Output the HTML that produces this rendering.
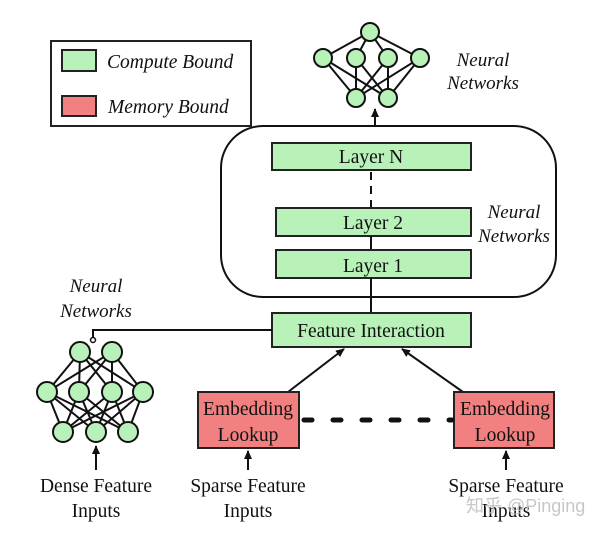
<!DOCTYPE html>
<html><head><meta charset="utf-8"><style>
html,body{margin:0;padding:0;background:#fff;}
svg{display:block;}
text{font-family:"Liberation Serif",serif;fill:#111;}
</style></head><body>
<svg width="600" height="534" viewBox="0 0 600 534" xmlns="http://www.w3.org/2000/svg">
<defs>
<marker id="ah" markerWidth="10" markerHeight="10" refX="8" refY="5" orient="auto" markerUnits="userSpaceOnUse">
<path d="M0,1 L9,5 L0,9 Z" fill="#111"/>
</marker>
</defs>
<rect width="600" height="534" fill="#fff"/>
<!-- Legend -->
<rect x="51" y="41" width="200" height="85" fill="#fff" stroke="#222" stroke-width="2"/>
<rect x="62" y="50" width="34" height="21" fill="#b8f2b8" stroke="#222" stroke-width="2"/>
<text x="107" y="68" font-size="19.5" font-style="italic">Compute Bound</text>
<rect x="62" y="96" width="34" height="20" fill="#f28080" stroke="#222" stroke-width="2"/>
<text x="108" y="113" font-size="19.5" font-style="italic">Memory Bound</text>

<!-- Top NN -->
<g stroke="#111" stroke-width="2">
<line x1="370" y1="32" x2="323" y2="58"/><line x1="370" y1="32" x2="356" y2="58"/><line x1="370" y1="32" x2="388" y2="58"/><line x1="370" y1="32" x2="420" y2="58"/>
<line x1="323" y1="58" x2="356" y2="98"/><line x1="323" y1="58" x2="388" y2="98"/>
<line x1="356" y1="58" x2="356" y2="98"/><line x1="356" y1="58" x2="388" y2="98"/>
<line x1="388" y1="58" x2="356" y2="98"/><line x1="388" y1="58" x2="388" y2="98"/>
<line x1="420" y1="58" x2="356" y2="98"/><line x1="420" y1="58" x2="388" y2="98"/>
</g>
<g fill="#b8f2b8" stroke="#111" stroke-width="2">
<circle cx="370" cy="32" r="9"/>
<circle cx="323" cy="58" r="9"/><circle cx="356" cy="58" r="9"/><circle cx="388" cy="58" r="9"/><circle cx="420" cy="58" r="9"/>
<circle cx="356" cy="98" r="9"/><circle cx="388" cy="98" r="9"/>
</g>
<line x1="375" y1="126" x2="375" y2="109" stroke="#111" stroke-width="2" marker-end="url(#ah)"/>
<text x="483" y="66" font-size="19" font-style="italic" text-anchor="middle">Neural</text>
<text x="483" y="89" font-size="19" font-style="italic" text-anchor="middle">Networks</text>

<!-- Rounded container -->
<rect x="221" y="126" width="335" height="171" rx="42" ry="42" fill="none" stroke="#111" stroke-width="2"/>
<rect x="272" y="143" width="199" height="27" fill="#b8f2b8" stroke="#222" stroke-width="2"/>
<text x="371" y="163" font-size="19.5" text-anchor="middle">Layer N</text>
<line x1="371" y1="172" x2="371" y2="207" stroke="#111" stroke-width="2" stroke-dasharray="8,6"/>
<rect x="276" y="208" width="195" height="28" fill="#b8f2b8" stroke="#222" stroke-width="2"/>
<text x="373" y="229" font-size="19.5" text-anchor="middle">Layer 2</text>
<line x1="371" y1="236" x2="371" y2="250" stroke="#111" stroke-width="2"/>
<rect x="276" y="250" width="195" height="28" fill="#b8f2b8" stroke="#222" stroke-width="2"/>
<text x="373" y="272" font-size="19.5" text-anchor="middle">Layer 1</text>
<text x="514" y="218" font-size="19" font-style="italic" text-anchor="middle">Neural</text>
<text x="514" y="242" font-size="19" font-style="italic" text-anchor="middle">Networks</text>

<line x1="371" y1="278" x2="371" y2="313" stroke="#111" stroke-width="2"/>
<!-- Feature Interaction -->
<rect x="272" y="313" width="199" height="34" fill="#b8f2b8" stroke="#222" stroke-width="2"/>
<text x="371" y="337" font-size="19.5" text-anchor="middle">Feature Interaction</text>

<!-- Left NN -->
<text x="96" y="292" font-size="19" font-style="italic" text-anchor="middle">Neural</text>
<text x="96" y="317" font-size="19" font-style="italic" text-anchor="middle">Networks</text>
<polyline points="272,330 93,330 93,338" fill="none" stroke="#111" stroke-width="2"/>
<circle cx="93" cy="340" r="2.5" fill="#fff" stroke="#111" stroke-width="1.5"/>
<g stroke="#111" stroke-width="2">
<line x1="80" y1="352" x2="47" y2="392"/><line x1="80" y1="352" x2="79" y2="392"/><line x1="80" y1="352" x2="112" y2="392"/><line x1="80" y1="352" x2="143" y2="392"/>
<line x1="112" y1="352" x2="47" y2="392"/><line x1="112" y1="352" x2="79" y2="392"/><line x1="112" y1="352" x2="112" y2="392"/><line x1="112" y1="352" x2="143" y2="392"/>
<line x1="47" y1="392" x2="63" y2="432"/><line x1="47" y1="392" x2="96" y2="432"/><line x1="47" y1="392" x2="128" y2="432"/>
<line x1="79" y1="392" x2="63" y2="432"/><line x1="79" y1="392" x2="96" y2="432"/><line x1="79" y1="392" x2="128" y2="432"/>
<line x1="112" y1="392" x2="63" y2="432"/><line x1="112" y1="392" x2="96" y2="432"/><line x1="112" y1="392" x2="128" y2="432"/>
<line x1="143" y1="392" x2="63" y2="432"/><line x1="143" y1="392" x2="96" y2="432"/><line x1="143" y1="392" x2="128" y2="432"/>
</g>
<g fill="#b8f2b8" stroke="#111" stroke-width="2">
<circle cx="80" cy="352" r="10"/><circle cx="112" cy="352" r="10"/>
<circle cx="47" cy="392" r="10"/><circle cx="79" cy="392" r="10"/><circle cx="112" cy="392" r="10"/><circle cx="143" cy="392" r="10"/>
<circle cx="63" cy="432" r="10"/><circle cx="96" cy="432" r="10"/><circle cx="128" cy="432" r="10"/>
</g>
<line x1="96" y1="470" x2="96" y2="446" stroke="#111" stroke-width="2" marker-end="url(#ah)"/>
<text x="96" y="492" font-size="19.5" text-anchor="middle">Dense Feature</text>
<text x="96" y="517" font-size="19.5" text-anchor="middle">Inputs</text>

<!-- Embeddings -->
<line x1="288" y1="392" x2="344" y2="349" stroke="#111" stroke-width="2" marker-end="url(#ah)"/>
<line x1="463" y1="392" x2="402" y2="349" stroke="#111" stroke-width="2" marker-end="url(#ah)"/>
<rect x="198" y="392" width="101" height="56" fill="#f28080" stroke="#222" stroke-width="2"/>
<text x="248" y="415" font-size="19.5" text-anchor="middle" fill="#5a0c0c">Embedding</text>
<text x="248" y="441" font-size="19.5" text-anchor="middle" fill="#5a0c0c">Lookup</text>
<rect x="454" y="392" width="100" height="56" fill="#f28080" stroke="#222" stroke-width="2"/>
<text x="505" y="415" font-size="19.5" text-anchor="middle" fill="#5a0c0c">Embedding</text>
<text x="505" y="441" font-size="19.5" text-anchor="middle" fill="#5a0c0c">Lookup</text>
<line x1="304" y1="420" x2="452" y2="420" stroke="#111" stroke-width="5" stroke-dasharray="8,21" stroke-linecap="round"/>
<line x1="248" y1="470" x2="248" y2="451" stroke="#111" stroke-width="2" marker-end="url(#ah)"/>
<line x1="506" y1="470" x2="506" y2="451" stroke="#111" stroke-width="2" marker-end="url(#ah)"/>
<text x="248" y="492" font-size="19.5" text-anchor="middle">Sparse Feature</text>
<text x="248" y="517" font-size="19.5" text-anchor="middle">Inputs</text>
<text x="506" y="492" font-size="19.5" text-anchor="middle">Sparse Feature</text>
<text x="506" y="517" font-size="19.5" text-anchor="middle">Inputs</text>
<text x="466" y="512" font-size="18" style="font-family:'Liberation Sans','Noto Sans CJK SC',sans-serif;fill:#bdbdbd;opacity:0.85">知乎 @Pinging</text>
</svg>
</body></html>
